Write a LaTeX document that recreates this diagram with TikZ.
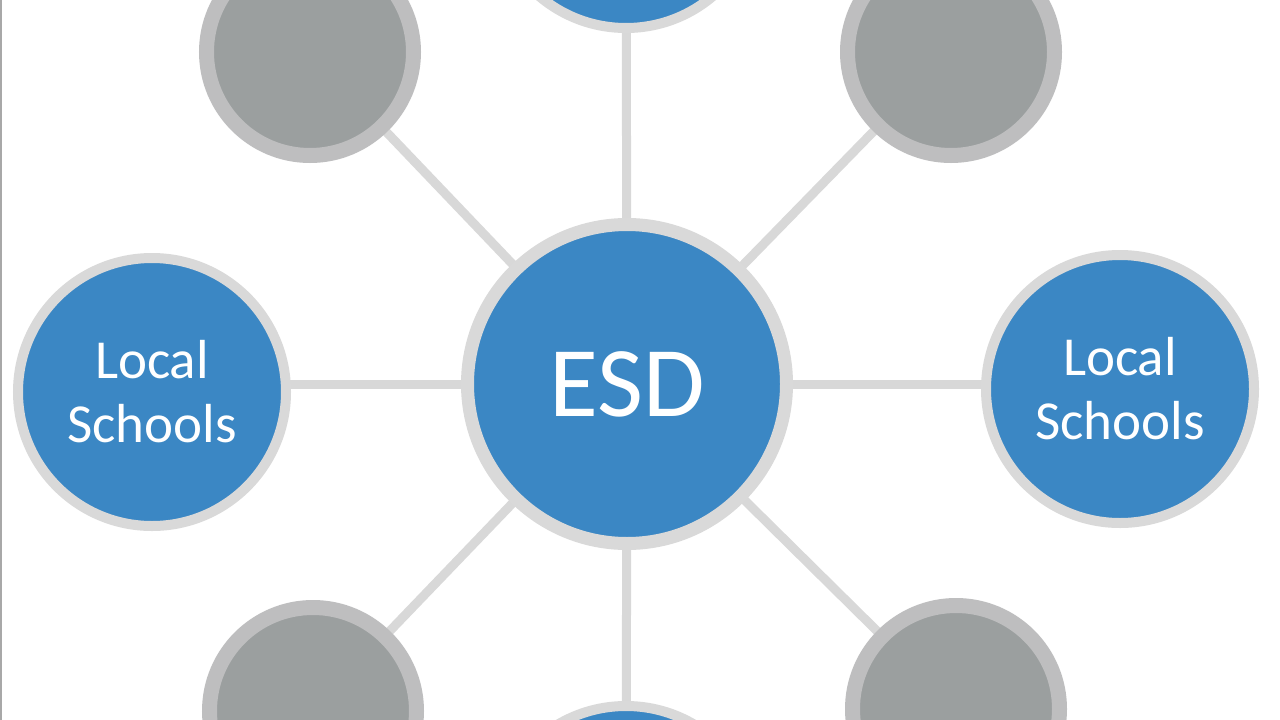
\documentclass[tikz,border=0pt]{standalone}
\usepackage{fontspec}
\setmainfont{Carlito}
\usetikzlibrary{backgrounds}
\definecolor{esdblue}{HTML}{3B87C4}
\definecolor{ringlight}{HTML}{D9D9D9}
\definecolor{grayfill}{HTML}{9B9F9F}
\definecolor{grayring}{HTML}{BEBEBF}
\definecolor{linkgray}{HTML}{D8D8D8}
\definecolor{edgegray}{HTML}{A8A8A8}
\tikzset{
  hub/.style={circle, draw=ringlight, fill=esdblue, line width=13pt, minimum size=319pt, inner sep=0pt, text=white, font=\fontsize{100}{110}\selectfont},
  school/.style={circle, draw=ringlight, fill=esdblue, line width=10pt, minimum size=268pt, inner sep=0pt, text=white, align=center, font=\fontsize{55}{64}\selectfont},
  blank/.style={circle, draw=grayring, fill=grayfill, line width=15pt, minimum size=207pt, inner sep=0pt},
  link/.style={draw=linkgray, line width=9pt},
  frameedge/.style={draw=edgegray, line width=2pt}
}
\begin{document}
\begin{tikzpicture}[x=1pt,y=-1pt]
\useasboundingbox (0,0) rectangle (1280,720);
\clip (0,0) rectangle (1280,720);
\node[hub] (esd) at (627,384) {ESD};
\node[school] (lsl) at (152,392) {Local\\Schools};
\node[school] (lsr) at (1120,389) {Local\\Schools};
\node[school] (top) at (626,-106) {};
\node[school] (bot) at (626,840) {};
\node[blank] (tl) at (310,52) {};
\node[blank] (tr) at (951,52) {};
\node[blank] (bl) at (313,711) {};
\node[blank] (br) at (956,709) {};
\begin{scope}[on background layer]
\fill[white] (0,0) rectangle (1280,720);
\draw[link] (esd.center) -- (esd.center -| lsl.center);
\draw[link] (esd.center) -- (esd.center -| lsr.center);
\draw[link] (esd.center) -- (top.center);
\draw[link] (esd.center) -- (bot.center);
\draw[link] (esd.center) -- (tl.center);
\draw[link] (esd.center) -- (tr.center);
\draw[link] (esd.center) -- (bl.center);
\draw[link] (esd.center) -- (br.center);
\end{scope}
\coordinate (et) at (1,0);
\coordinate (eb) at (1,720);
\draw[frameedge] (et) -- (eb);
\end{tikzpicture}
\end{document}
